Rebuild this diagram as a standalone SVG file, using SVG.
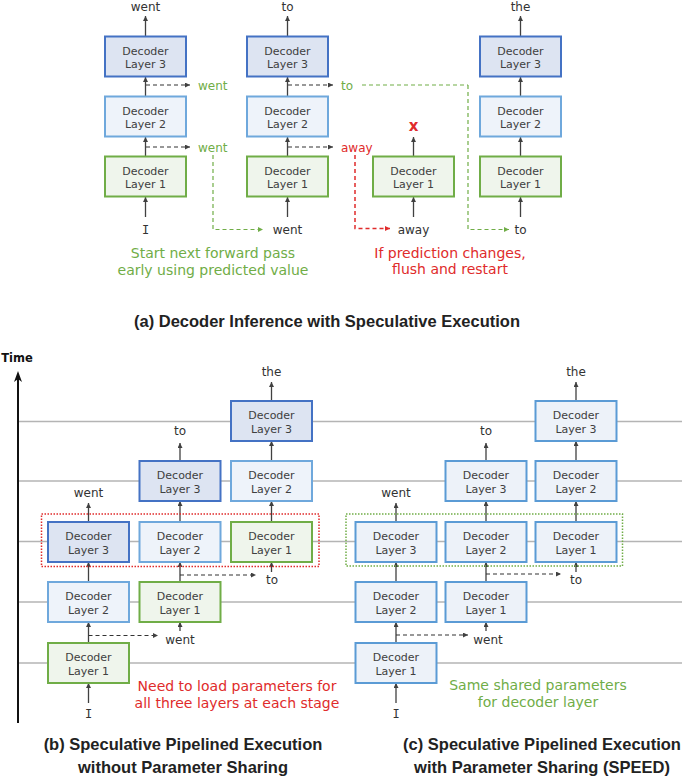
<svg xmlns="http://www.w3.org/2000/svg" width="685" height="780" viewBox="0 0 685 780">
<style>
.b3{fill:#dde4f2;stroke:#4472c4;stroke-width:2}
.b2{fill:#eef3fa;stroke:#6fa8dc;stroke-width:2}
.b1{fill:#eff5ec;stroke:#70ad47;stroke-width:2}
.bc{fill:#edf2f9;stroke:#5b9bd5;stroke-width:2}
.t{font-family:"DejaVu Sans",Verdana,sans-serif;font-size:11px;fill:#404040;text-anchor:middle}
.w{font-family:"DejaVu Sans",Verdana,sans-serif;font-size:12px;fill:#333;text-anchor:middle}
.i{font-family:"DejaVu Sans Mono",monospace;font-size:12px;fill:#333;text-anchor:middle}
.wl{font-family:"DejaVu Sans",Verdana,sans-serif;font-size:12px}
.g{fill:#70ad47}
.r{fill:#e02b2b}
.ann{font-family:"DejaVu Sans",Verdana,sans-serif;font-size:14px;text-anchor:middle}
.cap{font-family:"Liberation Sans",Arial,sans-serif;font-size:16.5px;font-weight:bold;fill:#222;text-anchor:middle}
.ar{stroke:#404040;stroke-width:1.3;fill:none;marker-end:url(#ah)}
.da{stroke:#333;stroke-width:1.2;fill:none;stroke-dasharray:4 3;marker-end:url(#ah)}
.dg{stroke:#70ad47;stroke-width:1.2;fill:none;stroke-dasharray:4 3}
.dga{stroke:#70ad47;stroke-width:1.2;fill:none;stroke-dasharray:4 3;marker-end:url(#ahg)}
.dra{stroke:#e02b2b;stroke-width:1.5;fill:none;stroke-dasharray:4 3;marker-end:url(#ahr)}
.grid{stroke:#b4b4b4;stroke-width:1.5}
</style>
<defs>
<marker id="ah" viewBox="0 0 6 6" refX="6" refY="3" markerWidth="5" markerHeight="5" markerUnits="userSpaceOnUse" orient="auto"><path d="M0,0 L6,3 L0,6 z" fill="#404040"/></marker>
<marker id="ahg" viewBox="0 0 6 6" refX="6" refY="3" markerWidth="5" markerHeight="5" markerUnits="userSpaceOnUse" orient="auto"><path d="M0,0 L6,3 L0,6 z" fill="#70ad47"/></marker>
<marker id="ahr" viewBox="0 0 6 6" refX="6" refY="3" markerWidth="5" markerHeight="5" markerUnits="userSpaceOnUse" orient="auto"><path d="M0,0 L6,3 L0,6 z" fill="#e02b2b"/></marker>
</defs>
<rect width="685" height="780" fill="#fff"/>

<!-- grid / time axis -->
<g id="timeline">
<line class="grid" x1="18" y1="421.5" x2="682" y2="421.5"/>
<line class="grid" x1="18" y1="481" x2="682" y2="481"/>
<line class="grid" x1="18" y1="541.5" x2="682" y2="541.5"/>
<line class="grid" x1="18" y1="602" x2="682" y2="602"/>
<line class="grid" x1="18" y1="663" x2="682" y2="663"/>
<path d="M18,723 L18,376" stroke="#111" stroke-width="2" fill="none"/>
<path d="M18,371 L22,382 L18,379 L14,382 z" fill="#111"/>
<text x="17" y="362" font-family="DejaVu Sans,Verdana,sans-serif" font-size="11.5" font-weight="bold" fill="#111" text-anchor="middle">Time</text>
</g>

<g id="connectors">
<!-- (a) -->
<path class="ar" d="M145.5,36.5 V16"/>
<path class="ar" d="M145.5,96.5 V77"/>
<path class="ar" d="M145.5,156.5 V137"/>
<path class="ar" d="M145.5,217 V197"/>
<path class="da" d="M146,85 H190"/>
<path class="da" d="M146,147 H190"/>
<path class="ar" d="M287.5,36.5 V16"/>
<path class="ar" d="M287.5,96.5 V77"/>
<path class="ar" d="M287.5,156.5 V137"/>
<path class="ar" d="M287.5,217 V197"/>
<path class="da" d="M288,85 H333"/>
<path class="da" d="M288,147 H333"/>
<path class="ar" d="M413.5,156.5 V137"/>
<path class="ar" d="M413.5,217 V197"/>
<path class="ar" d="M520.5,36.5 V16"/>
<path class="ar" d="M520.5,96.5 V77"/>
<path class="ar" d="M520.5,156.5 V137"/>
<path class="ar" d="M520.5,217 V197"/>
<path class="dga" d="M213,155 V229.5 H263"/>
<path class="dg" d="M362,85 H468"/>
<path class="dga" d="M468,85 V229.5 H509"/>
<path class="dra" d="M355,155 V228.5 H390"/>
<!-- (b) -->
<path class="ar" d="M88.5,703 V683"/>
<path class="ar" d="M88.5,643 V622"/>
<path class="ar" d="M88.5,582 V562"/>
<path class="ar" d="M88.5,522 V503"/>
<path class="da" d="M88.5,635.5 H158"/>
<path class="ar" d="M180,631 V622"/>
<path class="ar" d="M180,582 V562"/>
<path class="ar" d="M180,522 V501"/>
<path class="ar" d="M180,461 V443"/>
<path class="da" d="M180,575 H256"/>
<path class="ar" d="M271.5,572 V562"/>
<path class="ar" d="M271.5,522 V501"/>
<path class="ar" d="M271.5,461 V441"/>
<path class="ar" d="M271.5,401 V382"/>
<!-- (c) -->
<path class="ar" d="M396,703 V683"/>
<path class="ar" d="M396,643 V622"/>
<path class="ar" d="M396,582 V562"/>
<path class="ar" d="M396,522 V503"/>
<path class="da" d="M396,635 H468"/>
<path class="ar" d="M486,631 V622"/>
<path class="ar" d="M486,582 V562"/>
<path class="ar" d="M486,522 V501"/>
<path class="ar" d="M486,461 V443"/>
<path class="da" d="M486,574 H561"/>
<path class="ar" d="M576,572 V562"/>
<path class="ar" d="M576,522 V501"/>
<path class="ar" d="M576,461 V441"/>
<path class="ar" d="M576,401 V382"/>
</g>

<!-- (a) nodes -->
<g id="a-c1-l3"><rect class="b3" x="105" y="36.5" width="81" height="40"/><text class="t" x="145.5" y="54.5">Decoder</text><text class="t" x="145.5" y="68">Layer 3</text></g>
<g id="a-c1-l2"><rect class="b2" x="105" y="96.5" width="81" height="40"/><text class="t" x="145.5" y="114.5">Decoder</text><text class="t" x="145.5" y="128">Layer 2</text></g>
<g id="a-c1-l1"><rect class="b1" x="105" y="156.5" width="81" height="40"/><text class="t" x="145.5" y="174.5">Decoder</text><text class="t" x="145.5" y="188">Layer 1</text></g>
<g id="a-c2-l3"><rect class="b3" x="247" y="36.5" width="81" height="40"/><text class="t" x="287.5" y="54.5">Decoder</text><text class="t" x="287.5" y="68">Layer 3</text></g>
<g id="a-c2-l2"><rect class="b2" x="247" y="96.5" width="81" height="40"/><text class="t" x="287.5" y="114.5">Decoder</text><text class="t" x="287.5" y="128">Layer 2</text></g>
<g id="a-c2-l1"><rect class="b1" x="247" y="156.5" width="81" height="40"/><text class="t" x="287.5" y="174.5">Decoder</text><text class="t" x="287.5" y="188">Layer 1</text></g>
<g id="a-c3-l1"><rect class="b1" x="373" y="156.5" width="81" height="40"/><text class="t" x="413.5" y="174.5">Decoder</text><text class="t" x="413.5" y="188">Layer 1</text></g>
<g id="a-c4-l3"><rect class="b3" x="480" y="36.5" width="81" height="40"/><text class="t" x="520.5" y="54.5">Decoder</text><text class="t" x="520.5" y="68">Layer 3</text></g>
<g id="a-c4-l2"><rect class="b2" x="480" y="96.5" width="81" height="40"/><text class="t" x="520.5" y="114.5">Decoder</text><text class="t" x="520.5" y="128">Layer 2</text></g>
<g id="a-c4-l1"><rect class="b1" x="480" y="156.5" width="81" height="40"/><text class="t" x="520.5" y="174.5">Decoder</text><text class="t" x="520.5" y="188">Layer 1</text></g>

<g id="a-labels">
<text class="w" x="145.5" y="11">went</text>
<text class="w" x="287.5" y="11">to</text>
<text class="w" x="520.5" y="11">the</text>
<text x="413.5" y="131" font-family="DejaVu Sans,Verdana,sans-serif" font-size="15" font-weight="bold" fill="#e02b2b" text-anchor="middle">x</text>
<text class="wl g" x="198" y="89.5">went</text>
<text class="wl g" x="198" y="151.5">went</text>
<text class="wl g" x="341" y="89.5">to</text>
<text class="wl r" x="341" y="151.5">away</text>
<text class="i" x="145.5" y="233.5">I</text>
<text class="w" x="287.5" y="233.5">went</text>
<text class="w" x="413.5" y="233.5">away</text>
<text class="w" x="520.5" y="233.5">to</text>
<text class="ann g" x="213" y="258">Start next forward pass</text>
<text class="ann g" x="213" y="275">early using predicted value</text>
<text class="ann r" x="450" y="257.5">If prediction changes,</text>
<text class="ann r" x="450" y="274">flush and restart</text>
<text class="cap" x="327" y="327">(a) Decoder Inference with Speculative Execution</text>
</g>

<!-- (b) -->
<rect x="41.5" y="514" width="277.5" height="52.5" fill="none" stroke="#e02b2b" stroke-width="1.5" stroke-dasharray="1.5 1.5"/>
<g id="b-t1-c1"><rect class="b1" x="48" y="643" width="81" height="40"/><text class="t" x="88.5" y="661">Decoder</text><text class="t" x="88.5" y="674.5">Layer 1</text></g>
<g id="b-t2-c1"><rect class="b2" x="48" y="582" width="81" height="40"/><text class="t" x="88.5" y="600">Decoder</text><text class="t" x="88.5" y="613.5">Layer 2</text></g>
<g id="b-t2-c2"><rect class="b1" x="139.5" y="582" width="81" height="40"/><text class="t" x="180" y="600">Decoder</text><text class="t" x="180" y="613.5">Layer 1</text></g>
<g id="b-t3-c1"><rect class="b3" x="48" y="522" width="81" height="40"/><text class="t" x="88.5" y="540">Decoder</text><text class="t" x="88.5" y="553.5">Layer 3</text></g>
<g id="b-t3-c2"><rect class="b2" x="139.5" y="522" width="81" height="40"/><text class="t" x="180" y="540">Decoder</text><text class="t" x="180" y="553.5">Layer 2</text></g>
<g id="b-t3-c3"><rect class="b1" x="231" y="522" width="81" height="40"/><text class="t" x="271.5" y="540">Decoder</text><text class="t" x="271.5" y="553.5">Layer 1</text></g>
<g id="b-t4-c2"><rect class="b3" x="139.5" y="461" width="81" height="40"/><text class="t" x="180" y="479">Decoder</text><text class="t" x="180" y="492.5">Layer 3</text></g>
<g id="b-t4-c3"><rect class="b2" x="231" y="461" width="81" height="40"/><text class="t" x="271.5" y="479">Decoder</text><text class="t" x="271.5" y="492.5">Layer 2</text></g>
<g id="b-t5-c3"><rect class="b3" x="231" y="401" width="81" height="40"/><text class="t" x="271.5" y="419">Decoder</text><text class="t" x="271.5" y="432.5">Layer 3</text></g>
<g id="b-labels">
<text class="w" x="88.5" y="496.5">went</text>
<text class="w" x="180" y="435">to</text>
<text class="w" x="271.5" y="375.5">the</text>
<text class="w" x="180" y="643.5">went</text>
<text class="w" x="272" y="584">to</text>
<text class="i" x="88.5" y="717.5">I</text>
<text class="ann r" x="237" y="690.5">Need to load parameters for</text>
<text class="ann r" x="237" y="707.5">all three layers at each stage</text>
<text class="cap" x="183" y="750">(b) Speculative Pipelined Execution</text>
<text class="cap" x="183" y="773">without Parameter Sharing</text>
</g>

<!-- (c) -->
<rect x="346" y="514" width="276.5" height="52" fill="none" stroke="#70ad47" stroke-width="1.5" stroke-dasharray="1.5 1.5"/>
<g id="c-t1-c1"><rect class="bc" x="355.5" y="643" width="81" height="40"/><text class="t" x="396" y="661">Decoder</text><text class="t" x="396" y="674.5">Layer 1</text></g>
<g id="c-t2-c1"><rect class="bc" x="355.5" y="582" width="81" height="40"/><text class="t" x="396" y="600">Decoder</text><text class="t" x="396" y="613.5">Layer 2</text></g>
<g id="c-t2-c2"><rect class="bc" x="445.5" y="582" width="81" height="40"/><text class="t" x="486" y="600">Decoder</text><text class="t" x="486" y="613.5">Layer 1</text></g>
<g id="c-t3-c1"><rect class="bc" x="355.5" y="522" width="81" height="40"/><text class="t" x="396" y="540">Decoder</text><text class="t" x="396" y="553.5">Layer 3</text></g>
<g id="c-t3-c2"><rect class="bc" x="445.5" y="522" width="81" height="40"/><text class="t" x="486" y="540">Decoder</text><text class="t" x="486" y="553.5">Layer 2</text></g>
<g id="c-t3-c3"><rect class="bc" x="535.5" y="522" width="81" height="40"/><text class="t" x="576" y="540">Decoder</text><text class="t" x="576" y="553.5">Layer 1</text></g>
<g id="c-t4-c2"><rect class="bc" x="445.5" y="461" width="81" height="40"/><text class="t" x="486" y="479">Decoder</text><text class="t" x="486" y="492.5">Layer 3</text></g>
<g id="c-t4-c3"><rect class="bc" x="535.5" y="461" width="81" height="40"/><text class="t" x="576" y="479">Decoder</text><text class="t" x="576" y="492.5">Layer 2</text></g>
<g id="c-t5-c3"><rect class="bc" x="535.5" y="401" width="81" height="40"/><text class="t" x="576" y="419">Decoder</text><text class="t" x="576" y="432.5">Layer 3</text></g>
<g id="c-labels">
<text class="w" x="396" y="496.5">went</text>
<text class="w" x="486" y="435">to</text>
<text class="w" x="576" y="375.5">the</text>
<text class="w" x="488" y="643.5">went</text>
<text class="w" x="576" y="583.5">to</text>
<text class="i" x="396" y="717.5">I</text>
<text class="ann g" x="538" y="690">Same shared parameters</text>
<text class="ann g" x="538" y="707">for decoder layer</text>
<text class="cap" x="542" y="750">(c) Speculative Pipelined Execution</text>
<text class="cap" x="542" y="773">with Parameter Sharing (SPEED)</text>
</g>
</svg>
